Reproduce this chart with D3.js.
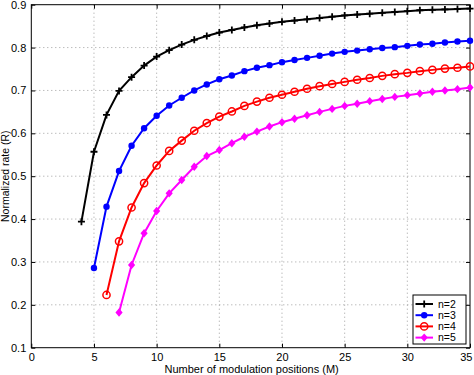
<!DOCTYPE html>
<html><head><meta charset="utf-8">
<script src="https://cdn.jsdelivr.net/npm/d3@7"></script>
<style>body{margin:0;background:#fff;} text{font-family:"Liberation Sans",Arial,sans-serif;}</style>
</head><body><svg id="c" width="474" height="375"></svg>
<script>
const seriesNames = ["n=2","n=3","n=4","n=5"];
const startM = [4,5,6,7];
const n2 = [0.394,0.557,0.643,0.699,0.731,0.758,0.779,0.794,0.807,0.818,0.827,0.835,0.841,0.847,0.852,0.856,0.860,0.863,0.866,0.869,0.872,0.875,0.877,0.879,0.881,0.883,0.885,0.887,0.888,0.889,0.890,0.891];
const n3 = [0.286,0.429,0.512,0.571,0.612,0.641,0.665,0.683,0.700,0.714,0.726,0.735,0.745,0.753,0.759,0.766,0.771,0.776,0.781,0.786,0.790,0.793,0.796,0.799,0.801,0.804,0.807,0.809,0.812,0.814,0.816];
const n4 = [0.223,0.348,0.427,0.484,0.525,0.559,0.583,0.606,0.624,0.639,0.651,0.664,0.674,0.683,0.690,0.697,0.704,0.710,0.715,0.720,0.725,0.729,0.734,0.738,0.741,0.745,0.748,0.751,0.753,0.756];
const n5 = [0.182,0.293,0.367,0.419,0.460,0.491,0.522,0.547,0.561,0.577,0.592,0.604,0.616,0.626,0.634,0.642,0.650,0.657,0.664,0.669,0.675,0.680,0.685,0.689,0.693,0.697,0.700,0.703,0.707];
const colors = ["#000000","#0000ff","#ff0000","#ff00ff"];
const xTicks = [0,5,10,15,20,25,30,35];
const yTicks = [0.1,0.2,0.3,0.4,0.5,0.6,0.7,0.8,0.9];
const xLabel = "Number of modulation positions (M)";
const yLabel = "Normalized rate (R)";

const svg = d3.select("#c");
const L=31.3, R=470, T=4.7, B=347.7;
const x = d3.scaleLinear().domain([0,35]).range([L,R]);
const y = d3.scaleLinear().domain([0.1,0.9]).range([B,T]);

// grid
const g = svg.append("g");
g.selectAll(".gx").data(xTicks.slice(1,-1)).enter().append("line")
 .attr("x1",d=>x(d)).attr("x2",d=>x(d)).attr("y1",T).attr("y2",B)
 .attr("stroke","#888").attr("stroke-width",0.8).attr("stroke-dasharray","1,3");
g.selectAll(".gy").data(yTicks.slice(1,-1)).enter().append("line")
 .attr("y1",d=>y(d)).attr("y2",d=>y(d)).attr("x1",L).attr("x2",R)
 .attr("stroke","#888").attr("stroke-width",0.8).attr("stroke-dasharray","1,3");

// axes
const fmtY = d3.format(".1f");
const ax = svg.append("g").attr("transform",`translate(0,${B})`)
 .call(d3.axisBottom(x).tickValues(xTicks).tickSizeInner(-4).tickSizeOuter(0).tickPadding(6));
const ay = svg.append("g").attr("transform",`translate(${L},0)`)
 .call(d3.axisLeft(y).tickValues(yTicks).tickFormat(fmtY).tickSizeInner(-4).tickSizeOuter(0).tickPadding(5));
const axt = svg.append("g").attr("transform",`translate(0,${T})`)
 .call(d3.axisTop(x).tickValues(xTicks).tickSizeInner(-4).tickSizeOuter(0).tickFormat(""));
const ayr = svg.append("g").attr("transform",`translate(${R},0)`)
 .call(d3.axisRight(y).tickValues(yTicks).tickSizeInner(-4).tickSizeOuter(0).tickFormat(""));
[ax,ay,axt,ayr].forEach(a=>{a.select(".domain").remove(); a.selectAll("text").attr("font-size",11).attr("fill","#000").style("font-family","Liberation Sans, Arial, sans-serif");});
ax.selectAll(".tick").filter(d=>d===35).select("text").attr("text-anchor","end").attr("dx","2");
svg.append("rect").attr("x",L).attr("y",T).attr("width",R-L).attr("height",B-T)
 .attr("fill","none").attr("stroke","#000").attr("stroke-width",1);

// labels
svg.append("text").attr("x",(L+R)/2+1).attr("y",373).attr("text-anchor","middle")
 .attr("font-size",11).text(xLabel);
svg.append("text").attr("transform",`translate(8.5,${(T+B)/2}) rotate(-90)`).attr("text-anchor","middle")
 .attr("font-size",10.5).text(yLabel);

// series
const allData = [n2,n3,n4,n5].map((vals,i)=>vals.map((v,j)=>({m:startM[i]+j,v})));
const line = d3.line().x(d=>x(d.m)).y(d=>y(d.v));

function marker(sel, i, cx, cy){
  const c = colors[i];
  if(i===0){
    sel.append("path").attr("d",`M${cx-3.5},${cy}H${cx+3.5}M${cx},${cy-3.5}V${cy+3.5}`)
      .attr("stroke",c).attr("stroke-width",1.8);
  } else if(i===1){
    sel.append("circle").attr("cx",cx).attr("cy",cy).attr("r",3.2).attr("fill",c);
  } else if(i===2){
    sel.append("circle").attr("cx",cx).attr("cy",cy).attr("r",3.6).attr("fill","none").attr("stroke",c).attr("stroke-width",1.5);
  } else {
    sel.append("path").attr("d",`M${cx},${cy-4.2}L${cx+3.6},${cy}L${cx},${cy+4.2}L${cx-3.6},${cy}Z`).attr("fill",c);
  }
}

allData.forEach((data,i)=>{
  const sg = svg.append("g");
  sg.append("path").datum(data).attr("d",line).attr("fill","none")
    .attr("stroke",colors[i]).attr("stroke-width",2);
  data.forEach(d=>marker(sg,i,x(d.m),y(d.v)));
});

// legend
const lg = svg.append("g");
lg.append("rect").attr("x",413).attr("y",295).attr("width",53).attr("height",49)
  .attr("fill","#fff").attr("stroke","#000").attr("stroke-width",1);
seriesNames.forEach((nm,i)=>{
  const yy = 304 + i*11.2;
  lg.append("line").attr("x1",415.5).attr("x2",433).attr("y1",yy).attr("y2",yy)
    .attr("stroke",colors[i]).attr("stroke-width",2);
  marker(lg,i,424.2,yy);
  lg.append("text").attr("x",438).attr("y",yy+3.8).attr("font-size",10.5).text(nm);
});
</script></body></html>
